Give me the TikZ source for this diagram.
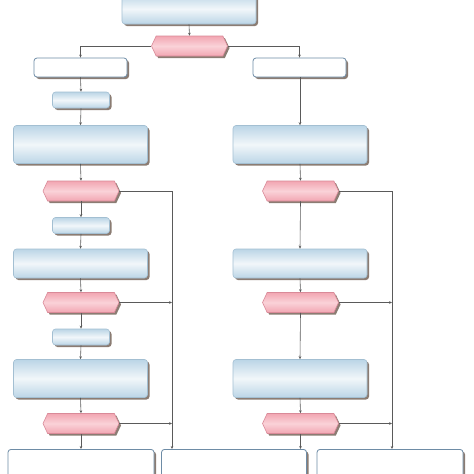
\documentclass[tikz,border=0pt]{standalone}
\usetikzlibrary{shapes.symbols,shadows,arrows.meta}
\definecolor{boxblue}{HTML}{BBD5E6}
\definecolor{boxedge}{HTML}{A3BFD2}
\definecolor{frameedge}{HTML}{6E8CA6}
\definecolor{pinkfill}{HTML}{F2A6B2}
\definecolor{pinklight}{HTML}{FAD2D8}
\definecolor{pinkedge}{HTML}{D98A98}
\definecolor{shadowc}{HTML}{85766C}
\definecolor{linec}{HTML}{5A5A5A}
\tikzset{
  x=1pt,y=-1pt,
  shade/.style={drop shadow={shadow xshift=2pt,shadow yshift=-2pt,fill=shadowc,opacity=0.95}},
  bluebox/.style={rectangle,rounded corners=3pt,draw=boxedge,line width=0.6pt,inner sep=0pt,
    top color=boxblue,bottom color=boxblue,middle color=white!80!boxblue,shade},
  framebox/.style={rectangle,rounded corners=3pt,draw=frameedge,line width=0.8pt,fill=white,inner sep=0pt,shade},
  hexbox/.style={signal,signal to=east and west,signal pointer angle=130,draw=pinkedge,line width=0.6pt,
    inner sep=0pt,minimum width=76pt,minimum height=20pt,
    top color=pinkfill,bottom color=pinkfill,middle color=pinklight,shade},
  smallbox/.style={bluebox,minimum width=57pt,minimum height=16pt},
  bigbox/.style={bluebox,minimum width=134pt,minimum height=38pt},
  midbox/.style={bluebox,minimum width=134pt,minimum height=29pt},
  conn/.style={draw=linec,line width=0.6pt,-{Stealth[length=3pt,width=2.6pt]}},
  plain/.style={draw=linec,line width=0.6pt}
}
\begin{document}
\begin{tikzpicture}
\clip (0,0) rectangle (474,474);
\fill[white] (0,0) rectangle (474,474);
% top
\node[bluebox,minimum width=134pt,minimum height=30pt] (top) at (189,9) {};
\node[hexbox] (h0) at (189.5,46) {};
\node[framebox,minimum width=93pt,minimum height=19pt] (l0) at (80.5,67.5) {};
\node[framebox,minimum width=93pt,minimum height=19pt] (r0) at (299.5,67.5) {};
% left column
\node[smallbox] (s1) at (81,100) {};
\node[bigbox] (b1) at (80.5,144.5) {};
\node[hexbox] (h1) at (81,191) {};
\node[smallbox] (s2) at (81,225.5) {};
\node[midbox] (b2) at (80.5,263.5) {};
\node[hexbox] (h2) at (81,302.5) {};
\node[smallbox] (s3) at (81,337) {};
\node[bigbox] (b3) at (80.5,378.5) {};
\node[hexbox] (h3) at (81,423.5) {};
% right column
\node[bigbox] (rb1) at (300,144.5) {};
\node[hexbox] (rh1) at (300.5,191) {};
\node[midbox] (rb2) at (300,263.5) {};
\node[hexbox] (rh2) at (300.5,302.5) {};
\node[bigbox] (rb3) at (300,378.5) {};
\node[hexbox] (rh3) at (300.5,423.5) {};
% bottom boxes
\node[framebox,minimum width=146pt,minimum height=40pt,anchor=north] (bl) at (81,449) {};
\node[framebox,minimum width=145pt,minimum height=40pt,anchor=north] (bm) at (234,449) {};
\node[framebox,minimum width=146pt,minimum height=40pt,anchor=north] (br) at (390,449) {};
\coordinate (jl) at (172,0);
\coordinate (jr) at (392,0);
% connectors
\draw[conn] (top.south) -- (h0.north);
\draw[conn] (h0.west) -| (l0.north);
\draw[conn] (h0.east) -| (r0.north);
\draw[conn] (l0.south) -- (s1.north);
\draw[conn] (s1.south) -- (b1.north);
\draw[conn] (b1.south) -- (h1.north);
\draw[conn] (h1.south) -- (s2.north);
\draw[conn] (s2.south) -- (b2.north);
\draw[conn] (b2.south) -- (h2.north);
\draw[conn] (h2.south) -- (s3.north);
\draw[conn] (s3.south) -- (b3.north);
\draw[conn] (b3.south) -- (h3.north);
\draw[conn] (h3.south) -- (bl.north);
\draw[conn] (r0.south -| rb1.north) -- (rb1.north);
\draw[conn] (rb1.south) -- (rh1.north);
\draw[conn] (rh1.south) -- (rb2.north);
\draw[conn] (rb2.south) -- (rh2.north);
\draw[conn] (rh2.south) -- (rb3.north);
\draw[conn] (rb3.south) -- (rh3.north);
\draw[conn] (rh3.south) -- (bm.north -| rh3.south);
\draw[conn] (h1.east) -| (bm.north -| jl);
\draw[conn] (h2.east) -- (h2.east -| jl);
\draw[conn] (h3.east) -- (h3.east -| jl);
\draw[conn] (rh1.east) -| (br.north -| jr);
\draw[conn] (rh2.east) -- (rh2.east -| jr);
\draw[conn] (rh3.east) -- (rh3.east -| jr);
\end{tikzpicture}
\end{document}
